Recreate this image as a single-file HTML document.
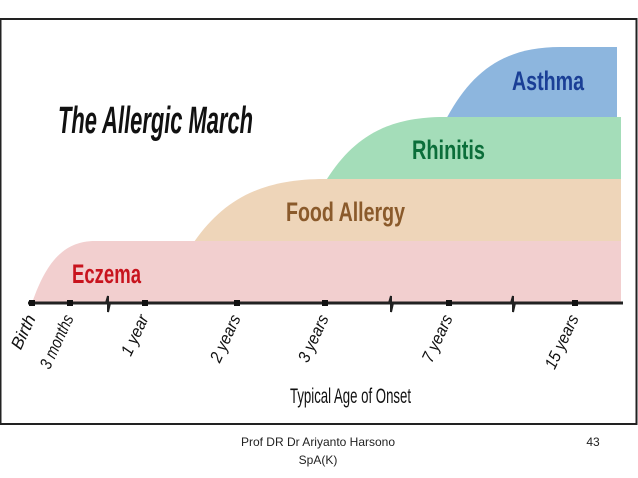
<!DOCTYPE html>
<html><head><meta charset="utf-8"><style>
html,body{margin:0;padding:0;background:#fff;width:638px;height:478px;overflow:hidden}
svg{display:block}
.cond{font-family:"Liberation Sans Narrow","Liberation Sans",sans-serif}
</style></head><body>
<svg id="chart" width="638" height="478">
<rect x="0.5" y="19" width="636" height="405" fill="#fff" stroke="#222" stroke-width="2"/>
<g id="layers"></g>
<g id="axis"></g>
<text x="58" y="133" class="cond" font-size="38" font-style="italic" font-weight="bold" fill="#111" textLength="195" lengthAdjust="spacingAndGlyphs">The Allergic March</text>
<text x="290" y="403" class="cond" font-size="21" fill="#111" textLength="121" lengthAdjust="spacingAndGlyphs">Typical Age of Onset</text>
<text x="318" y="446" text-anchor="middle" font-family="Liberation Sans,sans-serif" font-size="12" fill="#222">Prof DR Dr Ariyanto Harsono</text>
<text x="318" y="464" text-anchor="middle" font-family="Liberation Sans,sans-serif" font-size="12" fill="#222">SpA(K)</text>
<text x="593" y="446" text-anchor="middle" font-family="Liberation Sans,sans-serif" font-size="12" fill="#222">43</text>
</svg>
<script>
const tickLabels=["Birth","3 months","1 year","2 years","3 years","7 years","15 years"];
const tickPos=[0,1,3,4,5,7,9];
const breakPos=[2,6,8];
const conditions=["Eczema","Food Allergy","Rhinitis","Asthma"];
const onsetPos=[0,3.54,5.03,6.97];
const levels=[1,2,3,4];
const fills=["#f2cfcf","#eed5b9","#a4ddb9","#8db6de"];
const textColors=["#c8141e","#8a5a2b","#0b6e3a","#1a3f96"];

const NS="http://www.w3.org/2000/svg";
const xs=[32,70,107,145,237,325,390,449,512,575];
function x(p){const i=Math.floor(p);if(i>=9)return xs[9]+(p-9)*63;return xs[i]+(p-i)*(xs[i+1]-xs[i]);}
const yBase=303, step=62;
function y(l){return yBase-l*step-(l>=4?8:0);}
function mk(t,a){const e=document.createElementNS(NS,t);for(const k in a)e.setAttribute(k,a[k]);return e;}
const riseW=[63,130,117,113];
const rightEdge=[621,621,621,617];
const labelBox=[[72,69],[286,119],[412,73],[512,72]];
const L=document.getElementById('layers');
for(let i=conditions.length-1;i>=0;i--){
  const x0=x(onsetPos[i]), yb=i===0?yBase:y(levels[i-1]), yt=y(levels[i]);
  const w=riseW[i], h=yb-yt, xe=rightEdge[i];
  const d=`M${x0},${yb} C${x0+w*0.22},${yb-h*0.65} ${x0+w*0.5},${yt} ${x0+w},${yt} L${xe},${yt} L${xe},${yBase} L${x0},${yBase} Z`;
  const p=mk('path',{d:d,fill:fills[i]});
  
  
  L.appendChild(p);
  const t=mk('text',{x:labelBox[i][0],y:(yt+yb)/2+11+(i===3?-3:0),'font-size':'27','font-weight':'bold',fill:textColors[i],class:'cond',textLength:labelBox[i][1],lengthAdjust:'spacingAndGlyphs'});
  t.textContent=conditions[i];
  
  
  L.appendChild(t);
}
const A=document.getElementById('axis');
const line=mk('line',{x1:28,y1:yBase,x2:623,y2:yBase,stroke:'#222','stroke-width':3});


A.appendChild(line);
breakPos.forEach(b=>{const bx=x(b);
  const br=mk('path',{d:`M${bx-6},${yBase} L${bx-1},${yBase} L${bx+1},${yBase-7} L${bx+1},${yBase+9} L${bx+3},${yBase} L${bx+7},${yBase}`,fill:'none',stroke:'#222','stroke-width':2});
  
  
  A.appendChild(br);});
tickPos.forEach((p,i)=>{const tx=x(p);
  const m=mk('rect',{x:tx-3,y:yBase-3,width:6,height:6,fill:'#111'});
  
  
  A.appendChild(m);
  const t=mk('text',{x:tx+4,y:yBase+15,'text-anchor':'end','font-size':'17','font-style':'italic',fill:'#111',class:'cond',textLength:tickLabels[i].length*7.2,lengthAdjust:'spacingAndGlyphs',transform:`rotate(-65 ${tx+4} ${yBase+15})`});
  t.textContent=tickLabels[i];
  
  
  A.appendChild(t);});
</script>
</body></html>
